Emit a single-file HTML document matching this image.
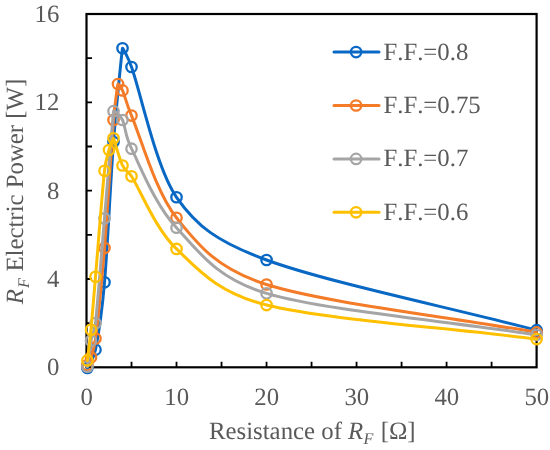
<!DOCTYPE html>
<html><head><meta charset="utf-8"><title>Chart</title>
<style>
html,body{margin:0;padding:0;background:#fff;}
body{width:550px;height:450px;overflow:hidden;}
svg{display:block;}
text{font-family:"Liberation Serif","Times New Roman",serif;font-size:24.8px;fill:#595959;font-kerning:none;font-variant-ligatures:none;text-rendering:geometricPrecision;}
</style></head><body>
<svg width="550" height="450" viewBox="0 0 550 450">
<rect width="550" height="450" fill="#fff"/>
<rect x="86.5" y="14.0" width="450.1" height="353.3" fill="none" stroke="#000" stroke-width="2.2"/>
<path d="M131.51 367.30V361.80M176.52 367.30V361.80M221.53 367.30V361.80M266.54 367.30V361.80M311.55 367.30V361.80M356.56 367.30V361.80M401.57 367.30V361.80M446.58 367.30V361.80M491.59 367.30V361.80M86.50 323.14H92.00M86.50 278.98H92.00M86.50 234.81H92.00M86.50 190.65H92.00M86.50 146.49H92.00M86.50 102.32H92.00M86.50 58.16H92.00" stroke="#000" stroke-width="1.8" fill="none"/>
<g stroke="#0868C4" fill="none">
<path d="M87.40 367.96 C90.10 361.85 93.58 359.26 95.50 349.63 C98.30 335.64 101.57 316.09 104.50 282.29 C107.50 247.73 110.51 181.07 113.51 142.07 C116.51 103.07 122.29 49.13 122.51 48.23 C122.68 47.50 127.98 57.24 131.51 67.00 C140.48 91.75 156.17 168.19 176.52 197.27 C196.87 226.35 216.68 241.58 266.54 259.99 C324.69 281.45 446.58 306.80 536.60 330.20" stroke-width="3" stroke-linejoin="round" stroke-linecap="round"/>
<g stroke-width="2.3"><circle cx="87.40" cy="367.96" r="5.2"/><circle cx="95.50" cy="349.63" r="5.2"/><circle cx="104.50" cy="282.29" r="5.2"/><circle cx="113.51" cy="142.07" r="5.2"/><circle cx="122.51" cy="48.23" r="5.2"/><circle cx="131.51" cy="67.00" r="5.2"/><circle cx="176.52" cy="197.27" r="5.2"/><circle cx="266.54" cy="259.99" r="5.2"/><circle cx="536.60" cy="330.20" r="5.2"/></g>
</g>
<g stroke="#F47B28" fill="none">
<path d="M87.40 365.09 C88.60 362.52 89.77 361.40 91.00 357.36 C92.34 352.99 94.32 348.13 95.50 338.59 C97.74 320.46 101.50 284.49 104.50 248.06 C107.50 211.63 111.26 147.31 113.51 119.99 C114.99 101.93 117.81 84.64 118.01 84.00 C118.15 83.51 121.00 86.87 122.51 90.40 C124.72 95.57 126.30 103.28 131.51 115.57 C140.50 136.78 155.49 191.51 176.52 217.81 C197.55 244.11 215.96 268.40 266.54 284.50 C323.41 302.59 446.58 316.44 536.60 332.41" stroke-width="3" stroke-linejoin="round" stroke-linecap="round"/>
<g stroke-width="2.3"><circle cx="87.40" cy="365.09" r="5.2"/><circle cx="91.00" cy="357.36" r="5.2"/><circle cx="95.50" cy="338.59" r="5.2"/><circle cx="104.50" cy="248.06" r="5.2"/><circle cx="113.51" cy="119.99" r="5.2"/><circle cx="118.01" cy="84.00" r="5.2"/><circle cx="122.51" cy="90.40" r="5.2"/><circle cx="131.51" cy="115.57" r="5.2"/><circle cx="176.52" cy="217.81" r="5.2"/><circle cx="266.54" cy="284.50" r="5.2"/><circle cx="536.60" cy="332.41" r="5.2"/></g>
</g>
<g stroke="#A5A5A5" fill="none">
<path d="M87.40 366.64 C88.60 358.03 89.65 348.03 91.00 340.80 C92.35 333.57 94.51 332.14 95.50 323.14 C97.74 302.89 101.50 253.80 104.50 218.47 C107.50 183.14 112.96 114.13 113.51 111.16 C113.71 110.04 119.94 114.64 122.51 119.99 C125.33 125.88 124.85 135.40 131.51 148.70 C140.41 166.45 155.01 204.71 176.52 227.75 C198.03 250.79 216.14 278.34 266.54 293.33 C323.20 310.18 446.58 321.00 536.60 334.84" stroke-width="3" stroke-linejoin="round" stroke-linecap="round"/>
<g stroke-width="2.3"><circle cx="87.40" cy="366.64" r="5.2"/><circle cx="91.00" cy="340.80" r="5.2"/><circle cx="95.50" cy="323.14" r="5.2"/><circle cx="104.50" cy="218.47" r="5.2"/><circle cx="113.51" cy="111.16" r="5.2"/><circle cx="122.51" cy="119.99" r="5.2"/><circle cx="131.51" cy="148.70" r="5.2"/><circle cx="176.52" cy="227.75" r="5.2"/><circle cx="266.54" cy="293.33" r="5.2"/><circle cx="536.60" cy="334.84" r="5.2"/></g>
</g>
<g stroke="#FFC000" fill="none">
<path d="M87.40 360.45 C88.60 350.22 89.65 343.71 91.00 329.76 C92.35 315.82 93.25 303.26 95.50 276.77 C97.75 250.27 102.26 191.81 104.50 170.78 C105.62 160.26 107.51 155.40 109.00 150.02 C110.50 144.64 113.25 138.03 113.51 138.32 C113.76 138.61 119.61 159.37 122.51 165.48 C125.41 171.59 127.71 170.42 131.51 176.30 C140.47 190.14 155.18 228.60 176.52 248.94 C197.86 269.29 217.46 292.75 266.54 305.03 C323.80 319.36 446.58 327.70 536.60 339.04" stroke-width="3" stroke-linejoin="round" stroke-linecap="round"/>
<g stroke-width="2.3"><circle cx="87.40" cy="360.45" r="5.2"/><circle cx="91.00" cy="329.76" r="5.2"/><circle cx="95.50" cy="276.77" r="5.2"/><circle cx="104.50" cy="170.78" r="5.2"/><circle cx="109.00" cy="150.02" r="5.2"/><circle cx="113.51" cy="138.32" r="5.2"/><circle cx="122.51" cy="165.48" r="5.2"/><circle cx="131.51" cy="176.30" r="5.2"/><circle cx="176.52" cy="248.94" r="5.2"/><circle cx="266.54" cy="305.03" r="5.2"/><circle cx="536.60" cy="339.04" r="5.2"/></g>
</g>
<text x="59.4" y="375.4" text-anchor="end">0</text>
<text x="59.4" y="287.1" text-anchor="end">4</text>
<text x="59.4" y="198.8" text-anchor="end">8</text>
<text x="59.4" y="110.4" text-anchor="end">12</text>
<text x="59.4" y="22.1" text-anchor="end">16</text>
<text x="86.7" y="404.9" text-anchor="middle">0</text>
<text x="176.7" y="404.9" text-anchor="middle">10</text>
<text x="266.7" y="404.9" text-anchor="middle">20</text>
<text x="356.8" y="404.9" text-anchor="middle">30</text>
<text x="446.8" y="404.9" text-anchor="middle">40</text>
<text x="536.8" y="404.9" text-anchor="middle">50</text>
<text x="209" y="438.6">Resistance of<tspan dx="6.1" font-style="italic">R</tspan><tspan font-style="italic" font-size="16.2" dy="5.5" dx="0.4">F</tspan><tspan dy="-5.5" dx="1"> [Ω]</tspan></text>
<text transform="translate(23.1,304.2) rotate(-90)"><tspan font-style="italic">R</tspan><tspan font-style="italic" font-size="16.2" dy="5.5" dx="1">F</tspan><tspan dy="-5.5" dx="0.4"> Electric Power [W]</tspan></text>
<g stroke="#0868C4" fill="none"><path d="M334 52.1H379" stroke-width="3" stroke-linecap="round"/><circle cx="356.1" cy="52.1" r="5.2" stroke-width="2.3"/></g>
<text x="383.4" y="59.6">F.F.=0.8</text>
<g stroke="#F47B28" fill="none"><path d="M334 105.5H379" stroke-width="3" stroke-linecap="round"/><circle cx="356.1" cy="105.5" r="5.2" stroke-width="2.3"/></g>
<text x="383.4" y="113.0">F.F.=0.75</text>
<g stroke="#A5A5A5" fill="none"><path d="M334 158.9H379" stroke-width="3" stroke-linecap="round"/><circle cx="356.1" cy="158.9" r="5.2" stroke-width="2.3"/></g>
<text x="383.4" y="166.4">F.F.=0.7</text>
<g stroke="#FFC000" fill="none"><path d="M334 212.3H379" stroke-width="3" stroke-linecap="round"/><circle cx="356.1" cy="212.3" r="5.2" stroke-width="2.3"/></g>
<text x="383.4" y="219.8">F.F.=0.6</text>
</svg></body></html>
